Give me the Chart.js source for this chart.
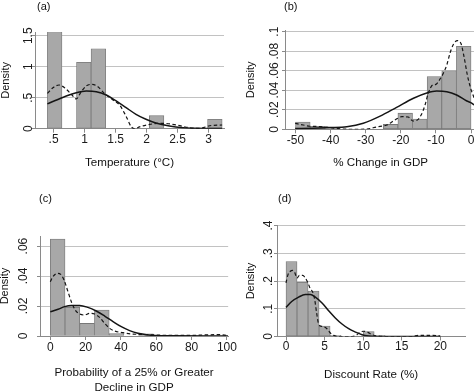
<!DOCTYPE html>
<html><head><meta charset="utf-8">
<script src="https://cdn.jsdelivr.net/npm/chart.js@4.4.1/dist/chart.umd.min.js"></script>
<style>
html,body{margin:0;padding:0;background:#fff;overflow:hidden;width:474px;height:392px;position:relative;}
canvas{position:absolute;}
.lab{position:absolute;font:11px "Liberation Sans",Arial,sans-serif;color:#111;line-height:11px;white-space:nowrap;}
</style></head><body>
<canvas id="ca"></canvas><canvas id="cb"></canvas><canvas id="cc"></canvas><canvas id="cd"></canvas>
<div class="lab" style="left:37px;top:0.5px">(a)</div>
<div class="lab" style="left:284px;top:0.5px">(b)</div>
<div class="lab" style="left:39px;top:192.5px">(c)</div>
<div class="lab" style="left:278px;top:192.5px">(d)</div>
<script>
// ---------- Panel (a): Temperature ----------
const aBinX = [0.5175, 0.9875, 1.2225, 2.1625, 3.1025];
const aBinY = [1.565, 1.071, 1.29, 0.21, 0.152];
const aNormX = [0.40, 0.635, 0.866, 1.027, 1.189, 1.35, 1.51, 1.67, 1.83, 1.99, 2.15, 2.37, 2.59, 2.80, 3.02, 3.22];
const aNormY = [0.40, 0.50, 0.58, 0.608, 0.597, 0.543, 0.447, 0.34, 0.232, 0.152, 0.092, 0.044, 0.017, 0.006, 0.003, 0.002];
const aKdeX = [0.40, 0.49, 0.587, 0.677, 0.786, 0.866, 0.947, 1.027, 1.124, 1.215, 1.32, 1.458, 1.565, 1.673, 1.753, 1.807, 1.887, 2.05, 2.26, 2.48, 2.69, 2.85, 3.02, 3.22];
const aKdeY = [0.57, 0.66, 0.705, 0.66, 0.555, 0.48, 0.597, 0.69, 0.716, 0.677, 0.57, 0.463, 0.382, 0.194, 0.032, 0.0, 0.03, 0.07, 0.087, 0.06, 0.016, 0.005, 0.048, 0.06];
const aXTicks = [0.5, 1, 1.5, 2, 2.5, 3];
const aXTickLabels = ['.5', '1', '1.5', '2', '2.5', '3'];
const aYTicks = [0, 0.5, 1, 1.5];
const aYTickLabels = ['0', '.5', '1', '1.5'];
const aXTitle = 'Temperature (°C)';

// ---------- Panel (b): % Change in GDP ----------
const bBinX = [-47.917, -43.75, -39.583, -22.917, -18.75, -14.583, -10.417, -6.25, -2.083];
const bBinY = [0.0075, 0.003, 0.001, 0.005, 0.0165, 0.0105, 0.054, 0.060, 0.085];
const bNormX = [-50.1, -44.9, -40.2, -35.4, -30.7, -25.9, -21.2, -16.4, -12.6, -9.8, -6.9, -4.1, -1.2, -0.1, 0.9];
const bNormY = [0.0008, 0.0012, 0.0018, 0.0027, 0.0062, 0.0135, 0.0225, 0.0318, 0.0372, 0.0392, 0.0385, 0.0351, 0.029, 0.0273, 0.025];
const bKdeX = [-50.1, -47.8, -45.9, -43, -40.2, -36.4, -32.6, -29.7, -26.9, -24, -21.7, -19.7, -17.9, -16.6, -15.3, -14.1, -13.1, -12.2, -10.9, -10, -9, -7.9, -6.9, -6, -5, -3.9, -2.9, -2, -1.05, -0.1, 0.9];
const bKdeY = [0.0061, 0.0044, 0.0031, 0.0028, 0.0017, 0.0003, 0.0, 0.0003, 0.0024, 0.0044, 0.0095, 0.0129, 0.0126, 0.0085, 0.0095, 0.0154, 0.0249, 0.0369, 0.0454, 0.046, 0.0505, 0.0574, 0.0659, 0.0779, 0.0871, 0.0908, 0.0881, 0.0744, 0.0556, 0.042, 0.032];
const bXTicks = [-50, -40, -30, -20, -10, 0];
const bXTickLabels = ['-50', '-40', '-30', '-20', '-10', '0'];
const bYTicks = [0, 0.02, 0.04, 0.06, 0.08, 0.1];
const bYTickLabels = ['0', '.02', '.04', '.06', '.08', '.1'];
const bXTitle = '% Change in GDP';

// ---------- Panel (c): Probability of 25% decline ----------
const cBinX = [4.167, 12.5, 20.833, 29.167, 37.5, 54.167];
const cBinY = [0.0647, 0.0191, 0.0084, 0.0173, 0.0016, 0.0015];
const cNormX = [0, 4.4, 8.1, 11.9, 16.6, 21.3, 26.0, 30.8, 35.5, 40.2, 44.9, 49.6, 54.3, 59.1, 68.5, 100.6];
const cNormY = [0.0162, 0.0178, 0.0196, 0.0204, 0.0204, 0.0191, 0.0167, 0.0133, 0.0096, 0.0062, 0.0036, 0.0018, 0.0009, 0.0003, 0.0001, 0.0];
const cKdeX = [0, 1.5, 4.0, 5.9, 7.8, 10, 11.9, 14.1, 16.6, 19.4, 22.3, 25.1, 27.9, 30.8, 33.6, 36.4, 41.1, 45.8, 51.5, 59.1, 68.5, 77.9, 87.4, 94.9, 100.6];
const cKdeY = [0.0362, 0.0396, 0.0418, 0.0411, 0.0373, 0.0296, 0.0229, 0.0173, 0.0147, 0.014, 0.0151, 0.0147, 0.0124, 0.0084, 0.0051, 0.0033, 0.0022, 0.0013, 0.0011, 0.0007, 0.0004, 0.0004, 0.0007, 0.0009, 0.0004];
const cXTicks = [0, 20, 40, 60, 80, 100];
const cXTickLabels = ['0', '20', '40', '60', '80', '100'];
const cYTicks = [0, 0.02, 0.04, 0.06];
const cYTickLabels = ['0', '.02', '.04', '.06'];
const cXTitle = ['Probability of a 25% or Greater', 'Decline in GDP'];

// ---------- Panel (d): Discount Rate ----------
const dBinX = [0.714, 2.143, 3.571, 5.0, 6.429, 10.714, 12.143, 17.857, 19.286];
const dBinY = [0.27, 0.195, 0.164, 0.038, 0.004, 0.018, 0.003, 0.002, 0.002];
const dNormX = [0, 0.78, 1.64, 2.5, 3.15, 3.8, 4.67, 5.53, 6.39, 7.26, 8.12, 8.99, 9.85, 10.7, 12.0, 20.0];
const dNormY = [0.105, 0.127, 0.142, 0.151, 0.151, 0.142, 0.121, 0.093, 0.067, 0.045, 0.028, 0.016, 0.0065, 0.002, 0.0, 0.0];
const dKdeX = [0, 0.26, 0.56, 0.86, 1.12, 1.43, 1.73, 2.16, 2.5, 2.85, 3.15, 3.46, 3.72, 3.97, 4.23, 4.58, 4.93, 5.31, 5.75, 6.18, 6.83, 8.56, 9.2, 9.63, 10.07, 10.63, 11.15, 11.8, 13.0, 16.3, 17.2, 18.5, 19.8, 20.0];
const dKdeY = [0.193, 0.223, 0.235, 0.238, 0.231, 0.211, 0.22, 0.22, 0.211, 0.193, 0.172, 0.16, 0.133, 0.085, 0.045, 0.037, 0.035, 0.028, 0.0126, 0.004, 0.0, 0.0, 0.0065, 0.016, 0.019, 0.015, 0.0065, 0.002, 0.0, 0.0, 0.004, 0.004, 0.003, 0.0];
const dXTicks = [0, 5, 10, 15, 20];
const dXTickLabels = ['0', '5', '10', '15', '20'];
const dYTicks = [0, 0.1, 0.2, 0.3, 0.4];
const dYTickLabels = ['0', '.1', '.2', '.3', '.4'];
const dXTitle = 'Discount Rate (%)';

// ---------- rendering ----------
const FAM = '"Liberation Sans", Arial, Helvetica, sans-serif';
const TICK_FS = 12, TITLE_FS = 11.6, YTITLE_FS = 11;
const zip = (xs, ys) => xs.map((x, i) => ({x: x, y: ys[i]}));

function makePanel(p) {
  const cv = document.getElementById(p.id);
  cv.width = p.w; cv.height = p.h;
  cv.style.width = p.w + 'px'; cv.style.height = p.h + 'px';
  cv.style.left = p.left + 'px'; cv.style.top = p.top + 'px';
  const mctx = document.createElement('canvas').getContext('2d');
  mctx.font = TICK_FS + 'px ' + FAM;
  const widest = Math.max(...p.yTickLabels.map(t => mctx.measureText(t).width));
  const yTL = 3;
  const yPad = (p.L - p.yLabelCx) - yTL - widest / 2;
  const nLines = Array.isArray(p.xTitle) ? p.xTitle.length : 1;
  const xLH = p.xTitleLH;
  const xTitlePadBottom = p.h - p.xTitleCy - xLH / 2 - (nLines - 1) * xLH;
  const yLH = YTITLE_FS * 1.2;
  const yTitlePadTop = p.yTitleCx - yLH / 2;
  new Chart(cv, {
    type: 'bar',
    data: {datasets: [
      {type: 'line', data: zip(p.kdeX, p.kdeY), borderColor: '#151515', borderWidth: 1.2, borderDash: [3.5, 2.5], pointRadius: 0, fill: false, cubicInterpolationMode: 'monotone'},
      {type: 'line', data: zip(p.normX, p.normY), borderColor: '#151515', borderWidth: 1.5, pointRadius: 0, fill: false, cubicInterpolationMode: 'monotone'},
      {type: 'bar', data: zip(p.binX, p.binY), backgroundColor: '#a8a8a8', borderColor: '#777777', borderWidth: 0.8, borderSkipped: false, categoryPercentage: 1, barPercentage: 1}
    ]},
    options: {
      responsive: false, animation: false, devicePixelRatio: 1, maintainAspectRatio: false,
      layout: {autoPadding: false, padding: {left: 0, top: p.T, right: p.w - p.R, bottom: 0}},
      plugins: {legend: {display: false}, tooltip: {enabled: false}},
      scales: {
        x: {
          type: 'linear', offset: false, min: p.xmin, max: p.xmax,
          afterFit: s => { s.height = p.h - p.B; },
          afterBuildTicks: s => { s.ticks = p.xTicks.map(v => ({value: v})); },
          ticks: {autoSkip: false, maxRotation: 0, minRotation: 0, padding: p.xTickPad, color: '#1a1a1a',
                  font: {family: FAM, size: TICK_FS}, callback: (v, i) => p.xTickLabels[i]},
          grid: {offset: false, drawOnChartArea: false, drawTicks: true, tickLength: 4, color: '#8a8a8a'},
          border: {display: true, color: '#8a8a8a', width: 1},
          title: {display: true, text: p.xTitle, color: '#111',
                  font: {family: FAM, size: TITLE_FS, lineHeight: xLH / TITLE_FS},
                  padding: {top: 0, bottom: xTitlePadBottom}}
        },
        y: {
          type: 'linear', min: 0, max: p.ymax,
          afterFit: s => { s.width = p.L; },
          afterBuildTicks: s => { s.ticks = p.yTicks.map(v => ({value: v})); },
          ticks: {autoSkip: false, minRotation: 90, maxRotation: 90, crossAlign: 'center', padding: yPad, color: '#1a1a1a',
                  font: {family: FAM, size: TICK_FS}, callback: (v, i) => p.yTickLabels[i]},
          grid: {color: '#c2c2c2', tickColor: '#8a8a8a', tickLength: yTL, drawTicks: true},
          border: {display: true, color: '#8a8a8a', width: 1},
          title: {display: true, text: 'Density', color: '#111',
                  font: {family: FAM, size: YTITLE_FS}, padding: {top: yTitlePadTop, bottom: 0}}
        }
      }
    }
  });
}

makePanel({id: 'ca', left: 0, top: 0, w: 237, h: 196, L: 35, R: 224, T: 32, B: 128.7,
  xmin: 0.2, xmax: 3.25, ymax: 1.56, yLabelCx: 29, yTitleCx: 6, xTickPad: 0, xTitleCy: 162.7, xTitleLH: 13.9,
  binX: aBinX, binY: aBinY, normX: aNormX, normY: aNormY, kdeX: aKdeX, kdeY: aKdeY,
  xTicks: aXTicks, xTickLabels: aXTickLabels, yTicks: aYTicks, yTickLabels: aYTickLabels, xTitle: aXTitle});

makePanel({id: 'cb', left: 237, top: 0, w: 250, h: 196, L: 48, R: 239.3, T: 30.5, B: 129.3,
  xmin: -53, xmax: 1.5, ymax: 0.1012, yLabelCx: 37.5, yTitleCx: 14, xTickPad: 0, xTitleCy: 163, xTitleLH: 13.9,
  binX: bBinX, binY: bBinY, normX: bNormX, normY: bNormY, kdeX: bKdeX, kdeY: bKdeY,
  xTicks: bXTicks, xTickLabels: bXTickLabels, yTicks: bYTicks, yTickLabels: bYTickLabels, xTitle: bXTitle});

makePanel({id: 'cc', left: 0, top: 196, w: 237, h: 210, L: 40, R: 228.3, T: 40, B: 140,
  xmin: -5.83, xmax: 100.7, ymax: 0.0667, yLabelCx: 23.8, yTitleCx: 4.5, xTickPad: 0, xTitleCy: 177, xTitleLH: 14.6,
  binX: cBinX, binY: cBinY, normX: cNormX, normY: cNormY, kdeX: cKdeX, kdeY: cKdeY,
  xTicks: cXTicks, xTickLabels: cXTickLabels, yTicks: cYTicks, yTickLabels: cYTickLabels, xTitle: cXTitle});

makePanel({id: 'cd', left: 237, top: 196, w: 237, h: 196, L: 40, R: 228.3, T: 29.5, B: 140.5,
  xmin: -1.167, xmax: 23.24, ymax: 0.4, yLabelCx: 31.5, yTitleCx: 14, xTickPad: -1, xTitleCy: 179, xTitleLH: 13.9,
  binX: dBinX, binY: dBinY, normX: dNormX, normY: dNormY, kdeX: dKdeX, kdeY: dKdeY,
  xTicks: dXTicks, xTickLabels: dXTickLabels, yTicks: dYTicks, yTickLabels: dYTickLabels, xTitle: dXTitle});
</script>
</body></html>
